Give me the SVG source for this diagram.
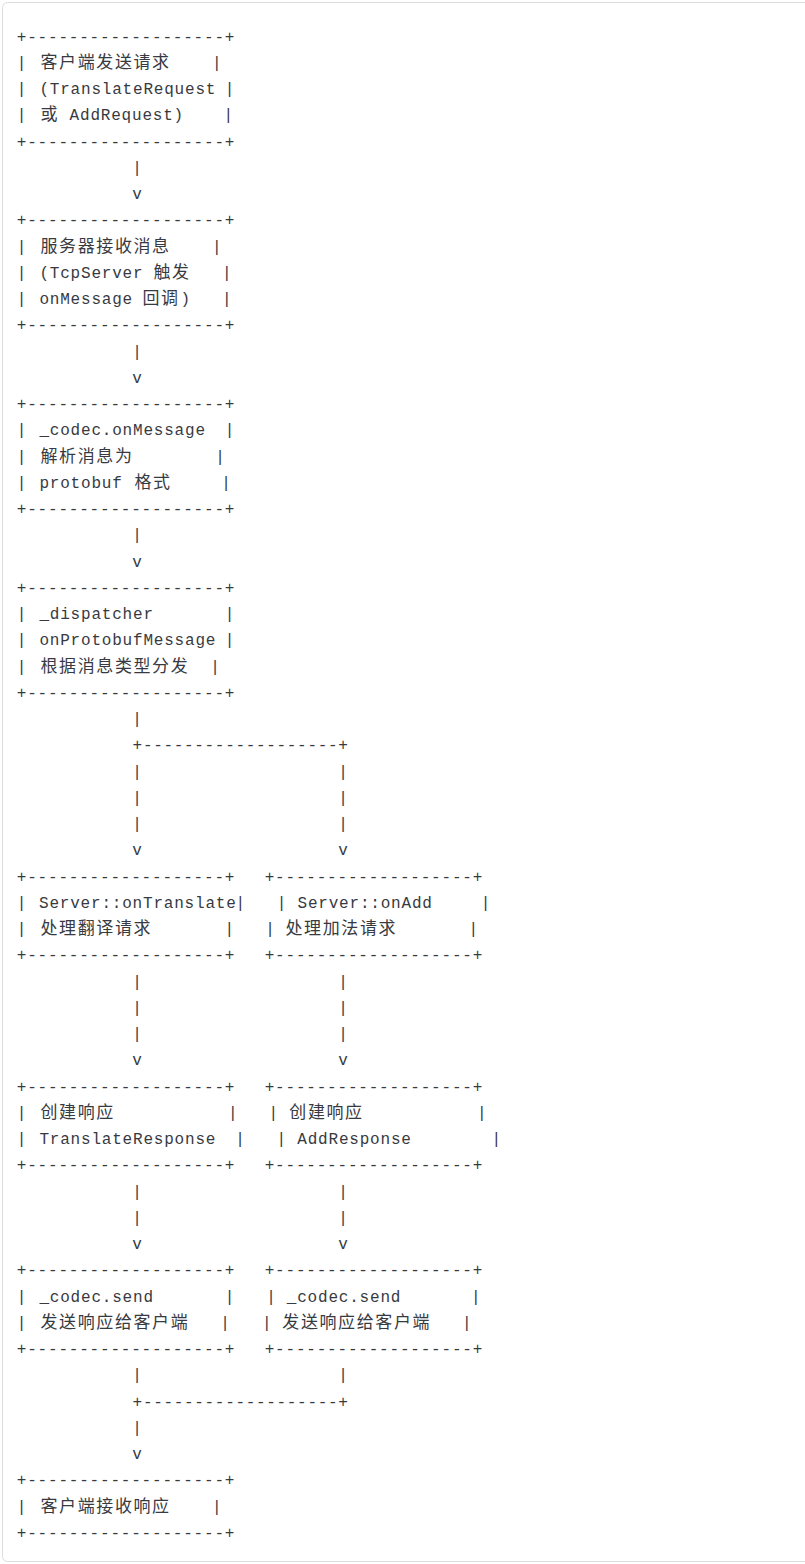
<svg xmlns="http://www.w3.org/2000/svg" width="805" height="1564" viewBox="0 0 805 1564">
<style>
.t{font-family:"Liberation Mono","DejaVu Sans Mono",monospace;font-size:16px;letter-spacing:0.8px;fill:#383a42;white-space:pre}
.c{font-family:"Noto Sans CJK SC","Noto Sans CJK TC",sans-serif;font-size:17px;letter-spacing:1.6px}
.br{letter-spacing:0.68px}
</style>
<rect x="0" y="0" width="805" height="1564" fill="#ffffff"/>
<rect x="2.5" y="2.5" width="830" height="1559" rx="5" fill="#ffffff" stroke="#dcdcdc" stroke-width="1"/>

<g id="connectors" class="t">
<text x="132.2" y="172.85">|</text>
<text x="132.2" y="199.1">v</text>
<text x="132.2" y="356.6">|</text>
<text x="132.2" y="382.85">v</text>
<text x="132.2" y="540.35">|</text>
<text x="132.2" y="566.6">v</text>
<text x="132.2" y="724.1">|</text>
<text class="br" x="132.6" y="750.35">+-------------------+</text>
<text x="132.2" y="776.6">|</text><text x="338.2" y="776.6">|</text>
<text x="132.2" y="802.85">|</text><text x="338.2" y="802.85">|</text>
<text x="132.2" y="829.1">|</text><text x="338.2" y="829.1">|</text>
<text x="132.2" y="855.35">v</text><text x="338.2" y="855.35">v</text>
<text x="132.2" y="986.6">|</text><text x="338.2" y="986.6">|</text>
<text x="132.2" y="1012.85">|</text><text x="338.2" y="1012.85">|</text>
<text x="132.2" y="1039.1">|</text><text x="338.2" y="1039.1">|</text>
<text x="132.2" y="1065.35">v</text><text x="338.2" y="1065.35">v</text>
<text x="132.2" y="1196.6">|</text><text x="338.2" y="1196.6">|</text>
<text x="132.2" y="1222.85">|</text><text x="338.2" y="1222.85">|</text>
<text x="132.2" y="1249.1">v</text><text x="338.2" y="1249.1">v</text>
<text x="132.2" y="1380.35">|</text><text x="338.2" y="1380.35">|</text>
<text class="br" x="132.6" y="1406.6">+-------------------+</text>
<text x="132.2" y="1432.85">|</text>
<text x="132.2" y="1459.1">v</text>
</g>

<g id="node-client-send" class="t">
<text x="16.8" y="41.6">+-------------------+</text>
<text y="67.85"><tspan x="16.8">|</tspan><tspan x="40.5" class="c">客户端发送请求</tspan><tspan x="211.9">|</tspan></text>
<text x="16.8" y="94.1">|<tspan x="39.4">(TranslateRequest</tspan><tspan x="224.8">|</tspan></text>
<text y="120.35"><tspan x="16.8">|</tspan><tspan x="40.5" class="c">或</tspan><tspan x="69.6">AddRequest)</tspan><tspan x="223.5">|</tspan></text>
<text x="16.8" y="146.6">+-------------------+</text>
</g>

<g id="node-server-receive" class="t">
<text x="16.8" y="225.35">+-------------------+</text>
<text y="251.6"><tspan x="16.8">|</tspan><tspan x="40.5" class="c">服务器接收消息</tspan><tspan x="211.9">|</tspan></text>
<text y="277.85"><tspan x="16.8">|</tspan><tspan x="39.4">(TcpServer</tspan><tspan x="153.5" class="c">触发</tspan><tspan x="221.9">|</tspan></text>
<text y="304.1"><tspan x="16.8">|</tspan><tspan x="39.4">onMessage</tspan><tspan x="142.5" class="c">回调</tspan><tspan x="180.5">)</tspan><tspan x="221.9">|</tspan></text>
<text x="16.8" y="330.35">+-------------------+</text>
</g>

<g id="node-codec-onmessage" class="t">
<text x="16.8" y="409.1">+-------------------+</text>
<text y="435.35"><tspan x="16.8">|</tspan><tspan x="39.4">_codec.onMessage</tspan><tspan x="224.8">|</tspan></text>
<text y="461.6"><tspan x="16.8">|</tspan><tspan x="40.5" class="c">解析消息为</tspan><tspan x="215.2">|</tspan></text>
<text y="487.85"><tspan x="16.8">|</tspan><tspan x="39.4">protobuf</tspan><tspan x="134.5" class="c">格式</tspan><tspan x="221.2">|</tspan></text>
<text x="16.8" y="514.1">+-------------------+</text>
</g>

<g id="node-dispatcher" class="t">
<text x="16.8" y="592.85">+-------------------+</text>
<text y="619.1"><tspan x="16.8">|</tspan><tspan x="39.4">_dispatcher</tspan><tspan x="224.8">|</tspan></text>
<text y="645.35"><tspan x="16.8">|</tspan><tspan x="39.4">onProtobufMessage</tspan><tspan x="224.8">|</tspan></text>
<text y="671.6"><tspan x="16.8">|</tspan><tspan x="40.5" class="c">根据消息类型分发</tspan><tspan x="210.2">|</tspan></text>
<text x="16.8" y="697.85">+-------------------+</text>
</g>

<g id="node-on-translate" class="t">
<text x="16.8" y="881.6">+-------------------+</text>
<text y="907.85"><tspan x="16.8">|</tspan><tspan x="39">Server::onTranslate</tspan><tspan x="235.4">|</tspan></text>
<text y="934.1"><tspan x="16.8">|</tspan><tspan x="40.5" class="c">处理翻译请求</tspan><tspan x="224.5">|</tspan></text>
<text x="16.8" y="960.35">+-------------------+</text>
</g>

<g id="node-on-add" class="t">
<text x="264.7" y="881.6">+-------------------+</text>
<text y="907.85"><tspan x="276.7">|</tspan><tspan x="297.5">Server::onAdd</tspan><tspan x="480.7">|</tspan></text>
<text y="934.1"><tspan x="265.2">|</tspan><tspan x="285.5" class="c">处理加法请求</tspan><tspan x="468.5">|</tspan></text>
<text x="264.7" y="960.35">+-------------------+</text>
</g>

<g id="node-translate-response" class="t">
<text x="16.8" y="1091.6">+-------------------+</text>
<text y="1117.85"><tspan x="16.8">|</tspan><tspan x="40.5" class="c">创建响应</tspan><tspan x="227.9">|</tspan></text>
<text y="1144.1"><tspan x="16.8">|</tspan><tspan x="39.4">TranslateResponse</tspan><tspan x="235.2">|</tspan></text>
<text x="16.8" y="1170.35">+-------------------+</text>
</g>

<g id="node-add-response" class="t">
<text x="264.7" y="1091.6">+-------------------+</text>
<text y="1117.85"><tspan x="268.5">|</tspan><tspan x="289.3" class="c">创建响应</tspan><tspan x="476.9">|</tspan></text>
<text y="1144.1"><tspan x="276.5">|</tspan><tspan x="297.3">AddResponse</tspan><tspan x="491.4">|</tspan></text>
<text x="264.7" y="1170.35">+-------------------+</text>
</g>

<g id="node-send-left" class="t">
<text x="16.8" y="1275.35">+-------------------+</text>
<text y="1301.6"><tspan x="16.8">|</tspan><tspan x="39.4">_codec.send</tspan><tspan x="224.8">|</tspan></text>
<text y="1327.85"><tspan x="16.8">|</tspan><tspan x="40.5" class="c">发送响应给客户端</tspan><tspan x="220.2">|</tspan></text>
<text x="16.8" y="1354.1">+-------------------+</text>
</g>

<g id="node-send-right" class="t">
<text x="264.7" y="1275.35">+-------------------+</text>
<text y="1301.6"><tspan x="266.2">|</tspan><tspan x="286.8">_codec.send</tspan><tspan x="470.9">|</tspan></text>
<text y="1327.85"><tspan x="261.9">|</tspan><tspan x="282.3" class="c">发送响应给客户端</tspan><tspan x="461.9">|</tspan></text>
<text x="264.7" y="1354.1">+-------------------+</text>
</g>

<g id="node-client-receive" class="t">
<text x="16.8" y="1485.35">+-------------------+</text>
<text y="1511.6"><tspan x="16.8">|</tspan><tspan x="40.5" class="c">客户端接收响应</tspan><tspan x="211.9">|</tspan></text>
<text x="16.8" y="1537.85">+-------------------+</text>
</g>
</svg>
